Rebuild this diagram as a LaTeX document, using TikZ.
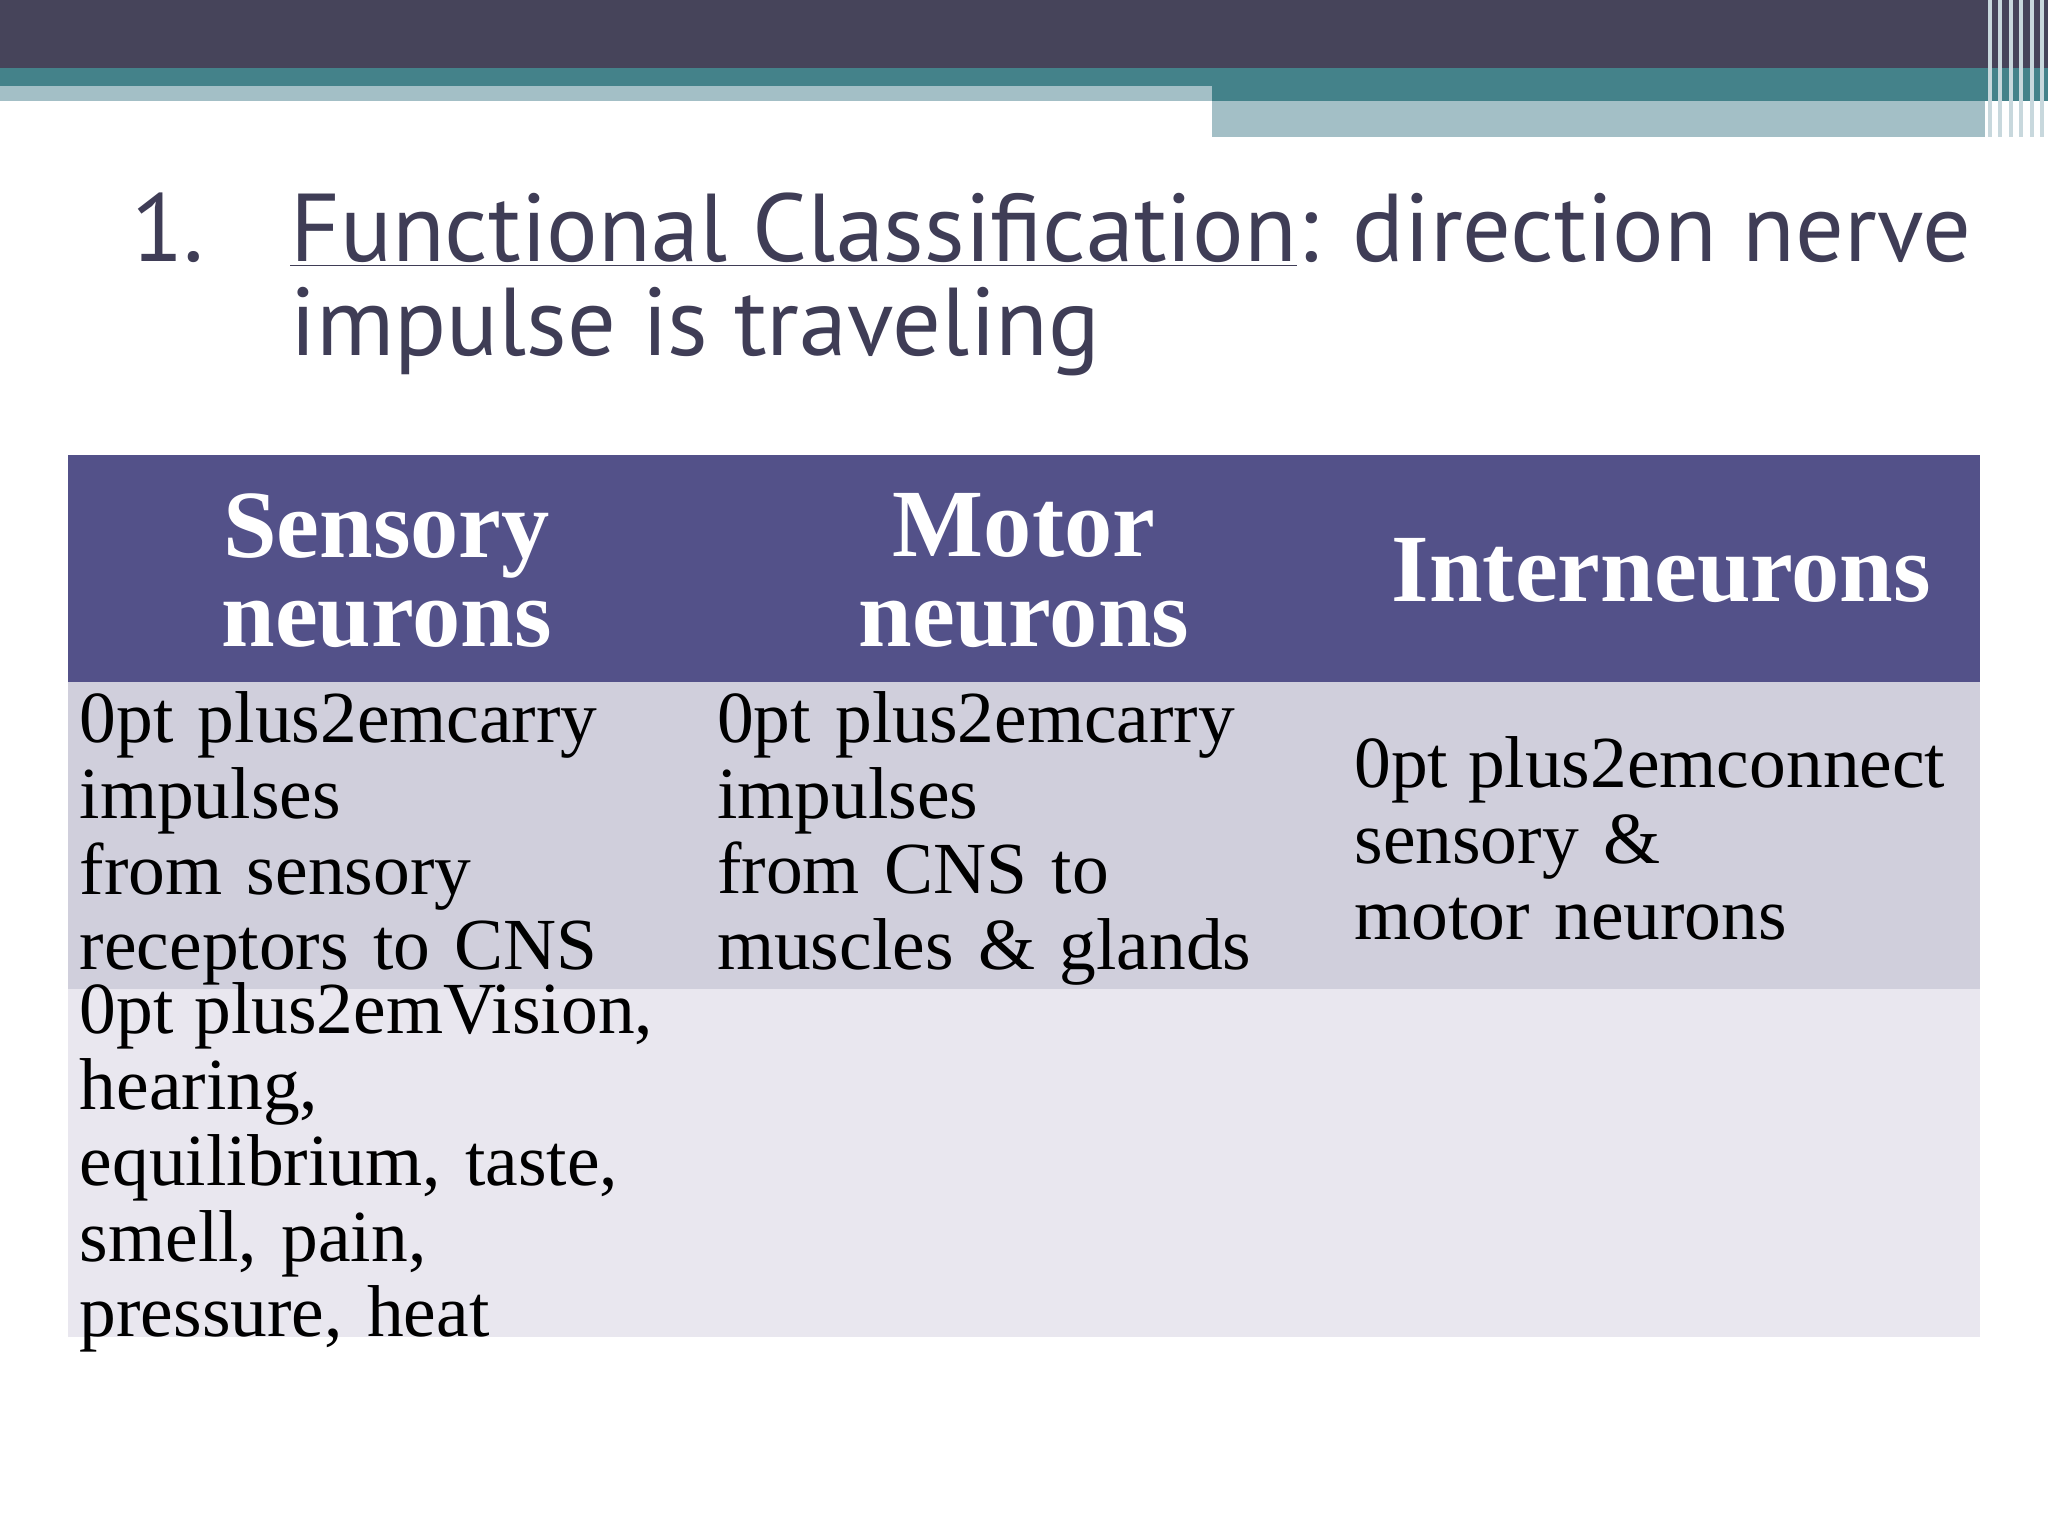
\documentclass[tikz,border=0pt]{standalone}
\usepackage{fontspec}
\setmainfont{Liberation Serif}
\newfontfamily\titlefont{PT Sans}
\usetikzlibrary{positioning}
\definecolor{barDark}{HTML}{46445A}
\definecolor{barTeal}{HTML}{44828A}
\definecolor{barLight}{HTML}{A3BFC6}
\definecolor{titleInk}{HTML}{3F3D56}
\definecolor{headFill}{HTML}{535189}
\definecolor{rowOne}{HTML}{D0CFDC}
\definecolor{rowTwo}{HTML}{E9E7EF}
\tikzset{
  head/.style={text=white, font=\fontsize{42}{39}\selectfont\bfseries, align=center, text width=9.4cm},
  cell/.style={text=black, font=\fontsize{32}{33}\selectfont\spaceskip=0.22em, align=center, text width=9.4cm},
  titletext/.style={anchor=base west, text=titleInk, font=\titlefont\fontsize{42}{47}\selectfont, inner sep=0pt},
}
\newcommand{\ulbar}[1]{\underline{#1}}
\begin{document}
\begin{tikzpicture}[x=0.02cm, y=-0.02cm]
   \useasboundingbox (0,0) rectangle (1568,1176);
   % banner
   \fill[barDark] (0,0) rectangle (1568,52);
   \fill[barTeal] (0,52) rectangle (1568,66);
   \fill[barLight] (0,66) rectangle (928,77);
   \fill[barTeal] (928,66) rectangle (1568,77);
   \fill[barLight] (928,77) rectangle (1520,105);
   \foreach \x in {1522,1530,1538,1546,1554,1562} {
       \fill[barLight!60] (\x,0) rectangle (\x+3,105);
   }
   % title
   \node[titletext] (num) at (100,200) {1.};
   \node[titletext] (title) at (222,200) {\ulbar{Functional Classification}: direction nerve};
   \node[titletext] (title2) at (222,272) {impulse is traveling};
   % table
   \fill[headFill] (52,348) rectangle (1516,522);
   \fill[rowOne] (52,522) rectangle (1516,757);
   \fill[rowTwo] (52,757) rectangle (1516,1024);
   \node[head] (sensory) at (296,437) {Sensory\\neurons};
   \node[head] (motor) at (784,437) {Motor\\neurons};
   \node[head] (inter) at (1272,437) {Interneurons};
   \node[cell] (sensoryDo) at (296,642) {carry impulses\\from sensory\\receptors to CNS};
   \node[cell] (motorDo) at (784,642) {carry impulses\\from CNS to\\muscles \& glands};
   \node[cell] (interDo) at (1272,642) {connect sensory \&\\motor neurons};
   \node[cell] (sensoryEx) at (296,894) {Vision, hearing,\\equilibrium, taste,\\smell, pain,\\pressure, heat};
\end{tikzpicture}
\end{document}
